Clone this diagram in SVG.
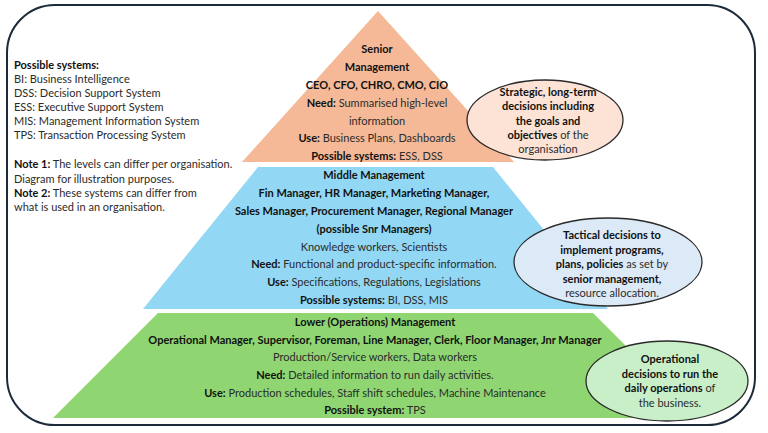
<svg xmlns="http://www.w3.org/2000/svg" width="768" height="433" viewBox="0 0 768 433">
<style>
text{font-family:Lato,"Open Sans","Liberation Sans",sans-serif;font-size:11px;fill:#2b2b2b}
.c{text-anchor:middle}
.b{font-weight:bold;fill:#111}
.e{stroke:#2a2a2a;stroke-width:1.3}
</style>
<rect width="768" height="433" fill="#fff"/>
<g id="frame"><rect x="7" y="5" width="748" height="420" rx="48" ry="48" fill="none" stroke="#1c2a3a" stroke-width="2"/></g>
<g id="legend">
<text x="14" y="69" class="b">Possible systems:</text>
<text x="14" y="82.5">BI: Business Intelligence</text>
<text x="14" y="96.5">DSS: Decision Support System</text>
<text x="14" y="110.5">ESS: Executive Support System</text>
<text x="14" y="125">MIS: Management Information System</text>
<text x="14" y="139">TPS: Transaction Processing System</text>
<text x="14" y="168"><tspan class="b">Note 1:</tspan> The levels can differ per organisation.</text>
<text x="14" y="183">Diagram for illustration purposes.</text>
<text x="14" y="197"><tspan class="b">Note 2:</tspan> These systems can differ from</text>
<text x="14" y="211">what is used in an organisation.</text>
</g>
<g id="senior">
<polygon points="378,11 514,162 242,162" fill="#f5b997"/>
<text x="377" y="53" class="c b">Senior</text>
<text x="377" y="71" class="c b">Management</text>
<text x="377" y="89" class="c b">CEO, CFO, CHRO, CMO, CIO</text>
<text x="377" y="107" class="c"><tspan class="b">Need:</tspan> Summarised high-level</text>
<text x="377" y="125" class="c">information</text>
<text x="377" y="142" class="c"><tspan class="b">Use:</tspan> Business Plans, Dashboards</text>
<text x="377" y="160" class="c"><tspan class="b">Possible systems:</tspan> ESS, DSS</text>
</g>
<g id="middle">
<polygon points="258,167 493,167 608,309 143,309" fill="#92d8f4"/>
<text x="374" y="179" class="c b">Middle Management</text>
<text x="374" y="197" class="c b">Fin Manager, HR Manager, Marketing Manager,</text>
<text x="374" y="215" class="c b">Sales Manager, Procurement Manager, Regional Manager</text>
<text x="374" y="233" class="c b">(possible Snr Managers)</text>
<text x="374" y="251" class="c">Knowledge workers, Scientists</text>
<text x="374" y="268" class="c"><tspan class="b">Need:</tspan> Functional and product-specific information.</text>
<text x="374" y="286" class="c"><tspan class="b">Use:</tspan> Specifications, Regulations, Legislations</text>
<text x="374" y="304" class="c"><tspan class="b">Possible systems:</tspan> BI, DSS, MIS</text>
</g>
<g id="lower">
<polygon points="158,313 593,313 698,418 53,418" fill="#8fd672"/>
<text x="375" y="326" class="c b">Lower (Operations) Management</text>
<text x="375" y="344" class="c b">Operational Manager, Supervisor, Foreman, Line Manager, Clerk, Floor Manager, Jnr Manager</text>
<text x="375" y="361" class="c">Production/Service workers, Data workers</text>
<text x="375" y="379" class="c"><tspan class="b">Need:</tspan> Detailed information to run daily activities.</text>
<text x="375" y="397" class="c"><tspan class="b">Use:</tspan> Production schedules, Staff shift schedules, Machine Maintenance</text>
<text x="375" y="414" class="c"><tspan class="b">Possible system:</tspan> TPS</text>
</g>
<g id="strategic">
<ellipse cx="545" cy="120" rx="78" ry="40" fill="#fce3d5" class="e"/>
<text x="548" y="96" class="c b">Strategic, long-term</text>
<text x="548" y="110" class="c b">decisions including</text>
<text x="548" y="125" class="c b">the goals and</text>
<text x="548" y="139"  class="c"><tspan class="b">objectives</tspan> of the</text>
<text x="548" y="153" class="c">organisation</text>
</g>
<g id="tactical">
<ellipse cx="608" cy="262" rx="94" ry="44" fill="#dce9f6" class="e"/>
<text x="612" y="239" class="c b">Tactical decisions to</text>
<text x="612" y="253.5" class="c b">implement  programs,</text>
<text x="612" y="268" class="c"><tspan class="b">plans, policies</tspan> as set by</text>
<text x="612" y="282.5" class="c b">senior management,</text>
<text x="612" y="297" class="c">resource allocation.</text>
</g>
<g id="operational">
<ellipse cx="667" cy="381" rx="81" ry="40" fill="#c9efc9" class="e"/>
<text x="670" y="363" class="c b">Operational</text>
<text x="670" y="378" class="c b">decisions to run the</text>
<text x="670" y="392" class="c"><tspan class="b">daily operations</tspan> of</text>
<text x="670" y="407" class="c">the business.</text>
</g>
<g id="connectors"></g>
</svg>
